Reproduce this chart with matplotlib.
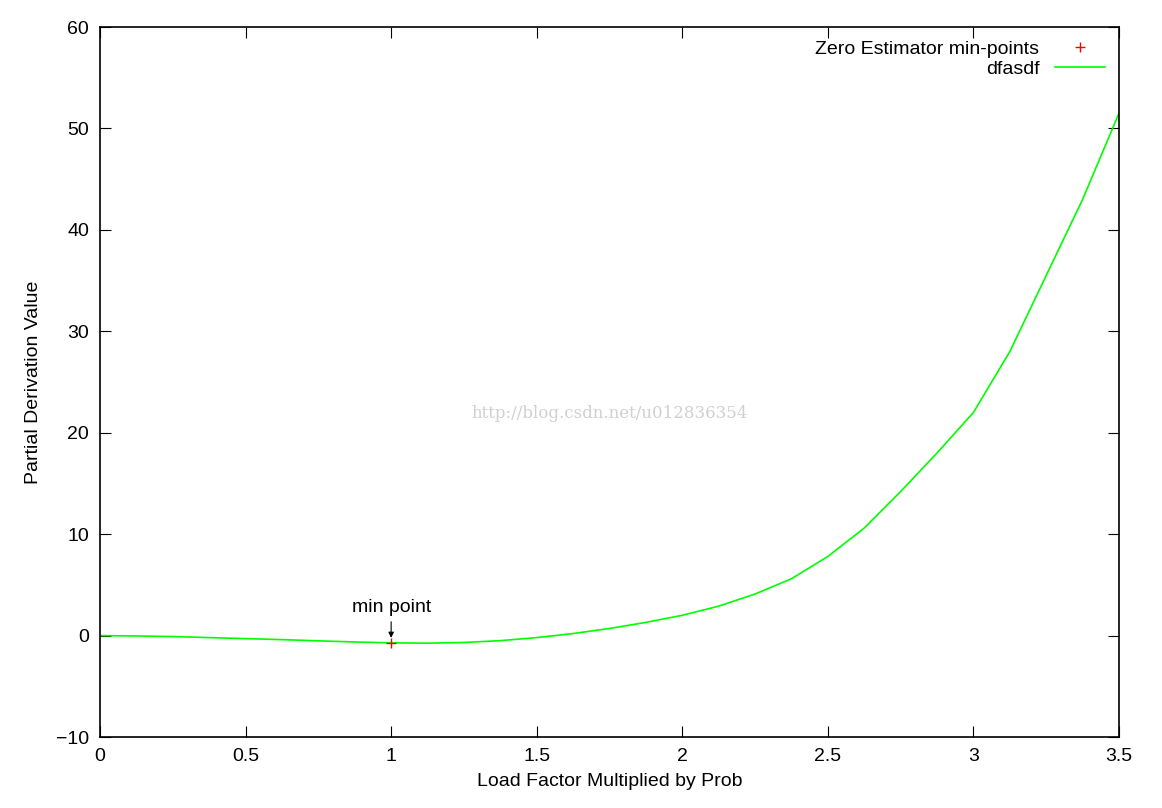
import matplotlib
matplotlib.use('Agg')
import matplotlib.pyplot as plt

plt.rcParams['font.family'] = ['Liberation Sans', 'DejaVu Sans']

# curve values
x_vals = [0, 0.125, 0.25, 0.375, 0.5, 0.625, 0.75, 0.875, 1.0, 1.125, 1.25, 1.375,
          1.5, 1.625, 1.75, 1.875, 2.0, 2.125, 2.25, 2.375, 2.5, 2.625, 2.75,
          2.875, 3.0, 3.125, 3.25, 3.375, 3.5]
y_vals = [0, -0.04, -0.1, -0.2, -0.3, -0.4, -0.52, -0.63, -0.72, -0.75, -0.68, -0.5,
          -0.2, 0.2, 0.7, 1.3, 2.0, 2.9, 4.1, 5.6, 7.8, 10.6, 14.2,
          18.0, 22.0, 28.0, 35.5, 43.0, 51.5]
min_x = [1.0]
min_y = [-0.75]

fig = plt.figure(figsize=(11.62, 8.08), dpi=100)
ax = fig.add_axes([100/1162, 1 - 737/808, (1119 - 100)/1162, (737 - 27)/808])

ax.plot(min_x, min_y, '+', color='red', ms=7, label='Zero Estimator min-points', zorder=3)
ax.plot(x_vals, y_vals, color='#00ff00', lw=1.2, label='dfasdf')

ax.annotate('min point', xy=(1.0, -0.5), xytext=(1.0, 2.3), ha='center', fontsize=14,
            arrowprops=dict(arrowstyle='-|>', color='black', lw=0.8, mutation_scale=8))

ax.set_xlim(0, 3.5)
ax.set_ylim(-10, 60)
ax.set_xticks([0, 0.5, 1, 1.5, 2, 2.5, 3, 3.5])
ax.set_xticklabels(['0', '0.5', '1', '1.5', '2', '2.5', '3', '3.5'])
ax.set_yticks(range(-10, 61, 10))
ax.tick_params(direction='in', top=True, right=True, length=8, labelsize=14, pad=8)
for s in ax.spines.values():
    s.set_linewidth(1.2)

ax.set_xlabel('Load Factor Multiplied by Prob', fontsize=14, labelpad=6)
ax.set_ylabel('Partial Derivation Value', fontsize=14, labelpad=10)

ax.text(0.5, 0.455, 'http://blog.csdn.net/u012836354', transform=ax.transAxes,
        ha='center', va='center', color='#d0d0d0', fontsize=12, family='DejaVu Serif')

ax.legend(loc='upper right', frameon=False, markerfirst=False, fontsize=14,
          handlelength=2.6, borderaxespad=0.3, labelspacing=0.1)

fig.savefig('out.png', dpi=100)
